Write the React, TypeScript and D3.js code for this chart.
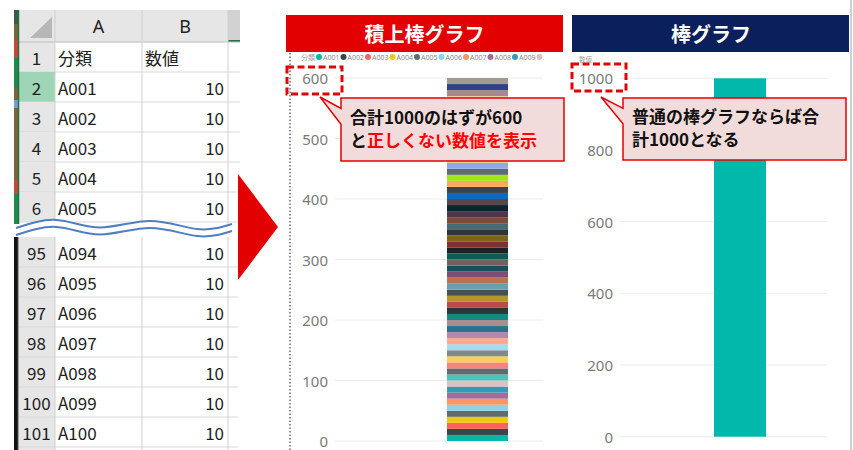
import React from 'react';
import * as d3 from 'd3';

// spreadsheet excerpt
const sheetColumns = ['A', 'B'];
const topRowNumbers = ['1', '2', '3', '4', '5', '6'];
const topCategories = ['分類', 'A001', 'A002', 'A003', 'A004', 'A005'];
const topValues = ['数値', '10', '10', '10', '10', '10'];
const bottomRowNumbers = ['95', '96', '97', '98', '99', '100', '101'];
const bottomCategories = ['A094', 'A095', 'A096', 'A097', 'A098', 'A099', 'A100'];
const bottomValues = [10, 10, 10, 10, 10, 10, 10];

// stacked bar (only 60 categories get drawn)
const stackCategories = [
    'A001', 'A002', 'A003', 'A004', 'A005', 'A006', 'A007', 'A008', 'A009', 'A010',
    'A011', 'A012', 'A013', 'A014', 'A015', 'A016', 'A017', 'A018', 'A019', 'A020',
    'A021', 'A022', 'A023', 'A024', 'A025', 'A026', 'A027', 'A028', 'A029', 'A030',
    'A031', 'A032', 'A033', 'A034', 'A035', 'A036', 'A037', 'A038', 'A039', 'A040',
    'A041', 'A042', 'A043', 'A044', 'A045', 'A046', 'A047', 'A048', 'A049', 'A050',
    'A051', 'A052', 'A053', 'A054', 'A055', 'A056', 'A057', 'A058', 'A059', 'A060',
];
const stackValues = [
    10, 10, 10, 10, 10, 10, 10, 10, 10, 10,
    10, 10, 10, 10, 10, 10, 10, 10, 10, 10,
    10, 10, 10, 10, 10, 10, 10, 10, 10, 10,
    10, 10, 10, 10, 10, 10, 10, 10, 10, 10,
    10, 10, 10, 10, 10, 10, 10, 10, 10, 10,
    10, 10, 10, 10, 10, 10, 10, 10, 10, 10,
];
const stackColors = [
    '#01B8AA', '#374649', '#FD625E', '#F2C80F', '#5F6B6D', '#8AD4EB', '#FE9666', '#A66999', '#3599B8', '#DFBFBF',
    '#4AC5BB', '#5F6B6D', '#FB8281', '#F4D25A', '#7F898A', '#A4DDEE', '#FDAB89', '#B687AC', '#28738A', '#A78F8F',
    '#168980', '#293537', '#BB4A4A', '#B59525', '#475052', '#6A9FB0', '#BD7150', '#7B4F71', '#1B4D5C', '#706060',
    '#0F5C55', '#1C2325', '#7D3231', '#796419', '#303637', '#476A75', '#7E4B36', '#52354C', '#0D262E', '#544848',
    '#0B6BC2', '#3A4448', '#FFA85F', '#A5E514', '#5F6B6D', '#8EA8E8', '#F3D35B', '#7B4F71', '#4AC5BB', '#FD625E',
    '#374649', '#8AD4EB', '#B59525', '#A66999', '#28738A', '#FE9666', '#F0DC9A', '#A8878F', '#2D4385', '#A49A90',
];
const stackTicks = [0, 100, 200, 300, 400, 500, 600];

// plain bar
const barCategories = ['数値'];
const barValues = [1000];
const barTicks = [0, 200, 400, 600, 800, 1000];

const jp = '"Noto Sans CJK JP", sans-serif';
const ui = '"Noto Sans", "Open Sans", sans-serif';
const red = '#E30000';

const Sheet: React.FC = () => {
    const rowH = 30;
    const top0 = 42;
    const bot0 = 237;
    const colX = [55, 142, 228];
    return (
        <g fontFamily={jp} fill="#222">
            {/* strip of the window behind */}
            <rect x={14} y={10} width={4} height={215} fill="#7a6440" />
            <rect x={14} y={10} width={4} height={14} fill="#3b5a48" />
            <rect x={14} y={40} width={4} height={18} fill="#c8453a" />
            <rect x={14} y={58} width={4} height={30} fill="#1f8a4f" />
            <rect x={14} y={100} width={4} height={8} fill="#6ea0d8" />
            <rect x={14} y={180} width={4} height={14} fill="#c8453a" />
            <rect x={14} y={194} width={4} height={30} fill="#1f8a4f" />
            <rect x={14} y={bot0} width={4} height={213} fill="#111" />

            {/* column header */}
            <rect x={18} y={10} width={222} height={32} fill="#e6e6e6" />
            <rect x={228} y={10} width={12} height={32} fill="#d2d2d2" />
            <line x1={228} x2={240} y1={41} y2={41} stroke="#217346" strokeWidth={2} />
            <path d="M30,38 L52,17 L52,38 Z" fill="#b7b7b7" />
            {sheetColumns.map((c, i) => (
                <text key={c} x={(colX[i] + colX[i + 1]) / 2} y={26} fontSize={18} textAnchor="middle"
                    dominantBaseline="central" fontFamily={ui}>{c}</text>
            ))}

            {/* upper rows */}
            {topRowNumbers.map((r, i) => {
                const y = top0 + i * rowH;
                return (
                    <g key={r}>
                        <rect x={18} y={y} width={37} height={rowH} fill={i === 1 ? '#9fd5b7' : '#e6e6e6'} />
                        <line x1={18} x2={240} y1={y + rowH} y2={y + rowH} stroke="#d9d9d9" />
                        <text x={36.5} y={y + 15} fontSize={17} textAnchor="middle" dominantBaseline="central">{r}</text>
                        <text x={58} y={y + 15} fontSize={17} dominantBaseline="central">{topCategories[i]}</text>
                        <text x={i === 0 ? 145 : 224} y={y + 15} fontSize={17} dominantBaseline="central"
                            textAnchor={i === 0 ? 'start' : 'end'}>{topValues[i]}</text>
                    </g>
                );
            })}
            <line x1={18} x2={240} y1={42} y2={42} stroke="#bdbdbd" />
            {colX.map(x => (
                <line key={x} x1={x} x2={x} y1={10} y2={228} stroke="#d0d0d0" />
            ))}
            <line x1={18.5} x2={18.5} y1={10} y2={226} stroke="#217346" strokeWidth={1.5} />

            {/* lower rows */}
            <rect x={18} y={bot0} width={37} height={213} fill="#e6e6e6" />
            {bottomRowNumbers.map((r, i) => {
                const y = bot0 + i * rowH;
                return (
                    <g key={r}>
                        <line x1={18} x2={238} y1={y + rowH} y2={y + rowH} stroke="#d9d9d9" />
                        <text x={36.5} y={y + 15} fontSize={17} textAnchor="middle" dominantBaseline="central">{r}</text>
                        <text x={58} y={y + 15} fontSize={17} dominantBaseline="central">{bottomCategories[i]}</text>
                        <text x={224} y={y + 15} fontSize={17} textAnchor="end" dominantBaseline="central">{bottomValues[i]}</text>
                    </g>
                );
            })}
            {colX.map(x => (
                <line key={x} x1={x} x2={x} y1={bot0} y2={450} stroke="#d0d0d0" />
            ))}
            <line x1={18} x2={18} y1={bot0} y2={450} stroke="#555" />
        </g>
    );
};

const Wave: React.FC = () => {
    const pts: [number, number][] = [[16, 228], [57, 220], [100, 227.5], [150, 221], [197, 229], [232, 224]];
    const low: [number, number][] = pts.map(([x, y]) => [x, y + 7]);
    const line = d3.line().curve(d3.curveNatural);
    const band = line(pts) + ' L' + line(low.slice().reverse())!.slice(1) + ' Z';
    return (
        <g>
            <rect x={10} y={224} width={232} height={13} fill="#fff" />
            <path d={band} fill="#fff" />
            <path d={line(pts)!} fill="none" stroke="#4f7fc0" strokeWidth={2} />
            <path d={line(low)!} fill="none" stroke="#4f7fc0" strokeWidth={2} />
        </g>
    );
};

const StackedChart: React.FC = () => {
    const y = d3.scaleLinear().domain([0, 600]).range([441, 78]);
    const x = d3.scaleBand().domain(['total']).range([447, 508]);
    const row: Record<string, number> = {};
    stackCategories.forEach((c, i) => { row[c] = stackValues[i]; });
    const series = d3.stack<Record<string, number>>().keys(stackCategories)([row]);
    const legendX = d3.scaleLinear().domain([0, 1]).range([319, 343.5]);
    return (
        <g>
            <rect x={286} y={15} width={277} height={37} fill={red} />
            <text x={424.5} y={33} fill="#fff" fontSize={20} fontWeight={700} fontFamily={jp}
                textAnchor="middle" dominantBaseline="central">積上棒グラフ</text>
            <line x1={290} x2={290} y1={53} y2={450} stroke="#555" strokeWidth={1.3} strokeDasharray="1.5,2" />

            <defs>
                <clipPath id="legendClip"><rect x={295} y={50} width={249} height={15} /></clipPath>
            </defs>
            <g clipPath="url(#legendClip)" fontSize={7} fill="#999" fontFamily={ui}>
                <text x={301} y={57} dominantBaseline="central" fontFamily={jp}>分類</text>
                {stackCategories.slice(0, 10).map((c, i) => (
                    <g key={c}>
                        <circle cx={legendX(i)} cy={57} r={3} fill={stackColors[i]} />
                        <text x={legendX(i) + 4} y={57} dominantBaseline="central" fill="#888">{c}</text>
                    </g>
                ))}
            </g>

            {stackTicks.map(t => (
                <g key={t}>
                    <line x1={335} x2={543} y1={y(t)} y2={y(t)} stroke="#ececec" />
                    <text x={328} y={y(t)} fontSize={15} fill="#7a7a7a" fontFamily={ui}
                        textAnchor="end" dominantBaseline="central">{t}</text>
                </g>
            ))}
            {series.map((s, i) => (
                <rect key={s.key} x={x('total')} width={x.bandwidth()}
                    y={y(s[0][1])} height={y(s[0][0]) - y(s[0][1])} fill={stackColors[i]} />
            ))}
        </g>
    );
};

const BarChart: React.FC = () => {
    const y = d3.scaleLinear().domain([0, 1000]).range([436.7, 78.3]);
    const x = d3.scaleBand().domain(barCategories).range([714, 766]);
    return (
        <g>
            <rect x={572} y={15} width={277} height={37} fill="#0B1F5C" />
            <text x={711} y={33} fill="#fff" fontSize={20} fontWeight={700} fontFamily={jp}
                textAnchor="middle" dominantBaseline="central">棒グラフ</text>
            <text x={579} y={59} fontSize={6.5} fill="#999" fontFamily={jp} dominantBaseline="central">{barCategories[0]}</text>
            {barTicks.map(t => (
                <g key={t}>
                    <line x1={620} x2={827} y1={y(t)} y2={y(t)} stroke="#ececec" />
                    <text x={613} y={y(t)} fontSize={15} fill="#7a7a7a" fontFamily={ui}
                        textAnchor="end" dominantBaseline="central">{t}</text>
                </g>
            ))}
            {barValues.map((v, i) => (
                <rect key={i} x={x(barCategories[i])} width={x.bandwidth()} y={y(v)} height={y(0) - y(v)} fill="#01B8AA" />
            ))}
            <line x1={851} x2={851} y1={0} y2={450} stroke="#cfcfcf" strokeWidth={2} />
        </g>
    );
};

const Callout: React.FC<{ x: number, y: number, w: number, h: number, tipX: number, tipY: number, children: React.ReactNode }> =
    ({ x, y, w, h, tipX, tipY, children }) => {
        const d = `M${x},${y} H${x + w} V${y + h} H${x} V${y + h * 5 / 12} L${tipX},${tipY} L${x},${y + h / 6} Z`;
        return (
            <g>
                <path d={d} fill="#F2DCDB" stroke={red} strokeWidth={1.5} />
                {children}
            </g>
        );
    };

const App: React.FC = () => {
    return (
        <svg width={853} height={450} style={{ position: 'absolute', left: 0, top: 0, background: '#fff' }}>
            <rect width={853} height={450} fill="#fff" />
            <Sheet />
            <Wave />
            <path d="M238,174 L278,227 L238,280 Z" fill={red} />
            <StackedChart />
            <BarChart />

            <rect x={287} y={67} width={55} height={27} fill="none" stroke={red} strokeWidth={3} strokeDasharray="7,3.5" />
            <rect x={572} y={64} width={54} height={27} fill="none" stroke={red} strokeWidth={3} strokeDasharray="7,3.5" />

            <Callout x={341} y={98} w={223} h={63} tipX={320} tipY={97}>
                <g fontFamily={jp} fontWeight={700} fontSize={17} fill="#111">
                    <text x={350} y={116} dominantBaseline="central">合計1000のはずが600</text>
                    <text x={350} y={139} dominantBaseline="central">と<tspan fill="#FF0000">正しくない数値を表示</tspan></text>
                </g>
            </Callout>
            <Callout x={623} y={98} w={223} h={62} tipX={601} tipY={97}>
                <g fontFamily={jp} fontWeight={700} fontSize={17} fill="#111">
                    <text x={632} y={115} dominantBaseline="central">普通の棒グラフならば合</text>
                    <text x={632} y={138} dominantBaseline="central">計1000となる</text>
                </g>
            </Callout>
        </svg>
    );
};

export default App;
